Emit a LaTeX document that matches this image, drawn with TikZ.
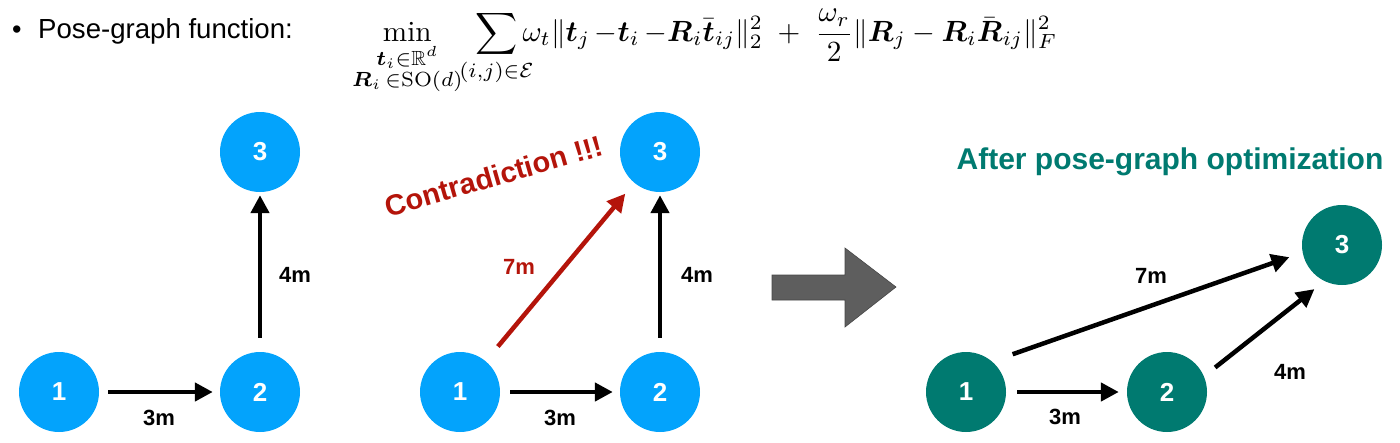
\documentclass[tikz,border=0pt]{standalone}
\usepackage{amsmath,amssymb,mathtools}
\usepackage{graphicx}
\usepackage{fontspec}
\newfontfamily\arial{Liberation Sans}
\usetikzlibrary{arrows.meta,calc}
\definecolor{nodeblue}{RGB}{3,163,252}
\definecolor{nodeteal}{RGB}{0,122,112}
\definecolor{contrared}{RGB}{180,20,10}
\definecolor{bigarrow}{RGB}{94,94,94}
\definecolor{bigarrowline}{RGB}{70,70,70}
\begin{document}
\begin{tikzpicture}[x=1pt,y=-1pt,
  pnode/.style={circle,minimum size=80pt,inner sep=0pt,text=white,font=\arial\bfseries\fontsize{26}{30}\selectfont},
  bnode/.style={pnode,fill=nodeblue},
  gnode/.style={pnode,fill=nodeteal},
  conn/.style={line width=4.5pt,-{Triangle[length=18pt,width=18pt]}},
  lbl/.style={font=\arial\bfseries\fontsize{22}{26}\selectfont},
]
\useasboundingbox (0,0) rectangle (1400,442);

% header
\node[anchor=base west,inner sep=0pt,font=\arial\fontsize{27}{32}\selectfont] (bullet) at (12,38) {•};
\node[anchor=base west,inner sep=0pt,font=\arial\fontsize{27.6}{32}\selectfont] (ptitle) at (38,38) {Pose-graph function:};
\node[anchor=north west,inner sep=0pt] (formula) at (352,9) {\resizebox{705pt}{!}{$\displaystyle
  \min_{\substack{\boldsymbol{t}_i\in\mathbb{R}^d\\ \boldsymbol{R}_i\,\in\mathrm{SO}(d)}}\;
  \sum_{\mathclap{(i,j)\in\mathcal{E}}}\omega_t\|\boldsymbol{t}_j\,{-}\boldsymbol{t}_i\,{-}\boldsymbol{R}_i\bar{\boldsymbol{t}}_{ij}\|_2^2
  \;+\;\frac{\omega_r}{2}\|\boldsymbol{R}_j-\boldsymbol{R}_i\bar{\boldsymbol{R}}_{ij}\|_F^2$}};

% left graph
\node[bnode] (a1) at (59,392) {1};
\node[bnode] (a2) at (260,392) {2};
\node[bnode] (a3) at (260,152) {3};
\draw[conn,shorten <=9pt,shorten >=7pt] (a1) -- (a2);
\draw[conn,shorten <=14pt,shorten >=3pt] (a2) -- (a3);
\node[lbl] (la12) at (159,418) {3m};
\node[lbl] (la23) at (295,275) {4m};

% middle graph
\node[bnode] (b1) at (460,392) {1};
\node[bnode] (b2) at (660,392) {2};
\node[bnode] (b3) at (660,152) {3};
\draw[conn,shorten <=10pt,shorten >=7pt] (b1) -- (b2);
\draw[conn,shorten <=14pt,shorten >=3pt] (b2) -- (b3);
\draw[conn,contrared,shorten <=19pt,shorten >=14pt] (b1) -- (b3);
\node[lbl] (lb12) at (560,418) {3m};
\node[lbl] (lb23) at (697,275) {4m};
\node[lbl,text=contrared] (lb13) at (519,267) {7m};
\node[font=\arial\bfseries\fontsize{29}{34}\selectfont,text=contrared,rotate=16] (contra) at (494,176) {Contradiction !!!};

% big arrow
\filldraw[fill=bigarrow,draw=bigarrowline,line width=0.6pt]
  (772,275) -- (845,275) -- (845,248) -- (896,287) -- (845,327) -- (845,300) -- (772,300) -- cycle;

% right graph
\node[anchor=base,font=\arial\bfseries\fontsize{30}{36}\selectfont,text=nodeteal] (after) at (1170,169) {After pose-graph optimization};
\node[gnode] (c1) at (966,392) {1};
\node[gnode] (c2) at (1167,392) {2};
\node[gnode] (c3) at (1342,245) {3};
\draw[conn,shorten <=11pt,shorten >=8pt] (c1) -- (c2);
\draw[conn] ($(c1.center)+(39:60pt)$) -- ($(c3.center)+(193:54pt)$);
\draw[conn] ($(c2.center)+(27:54pt)$) -- ($(c3.center)+(238:52pt)$);
\node[lbl] (lc12) at (1065,417) {3m};
\node[lbl] (lc13) at (1151,276) {7m};
\node[lbl] (lc23) at (1290,372) {4m};
\end{tikzpicture}
\end{document}
